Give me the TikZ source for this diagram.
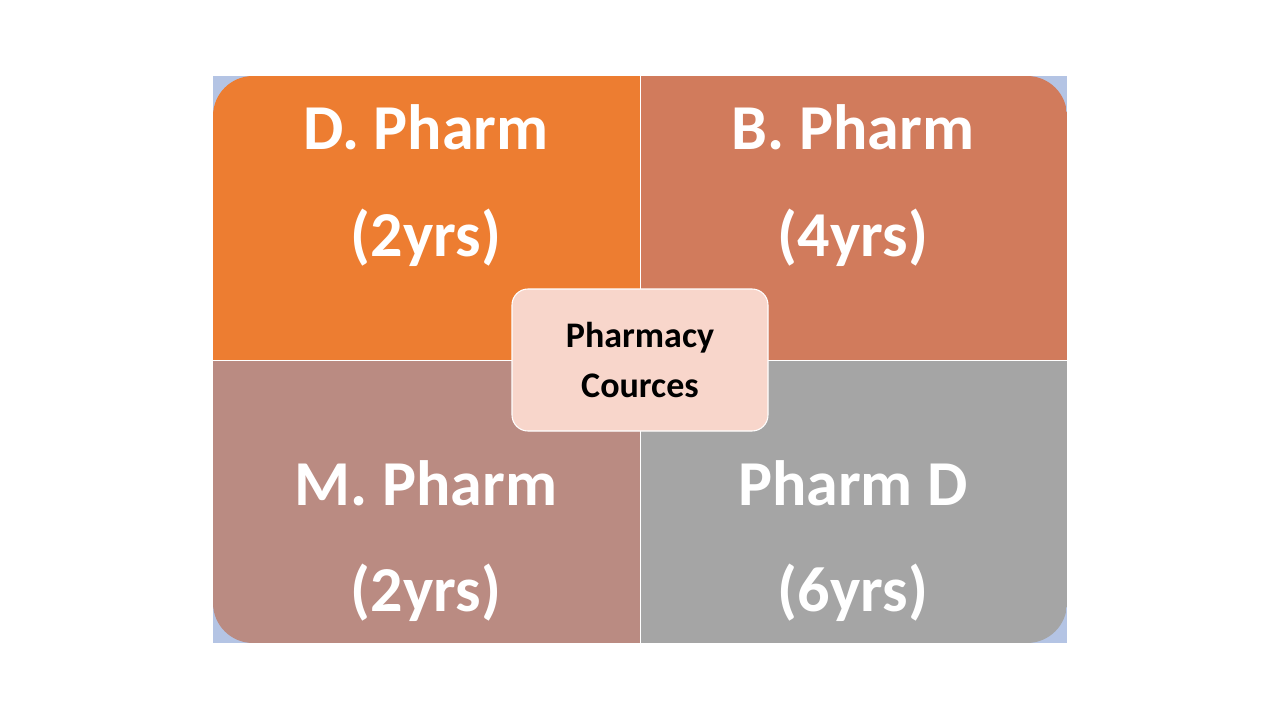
\documentclass[tikz,border=0pt]{standalone}
\usepackage{fontspec}
\setmainfont{Carlito}
\definecolor{bgblue}{RGB}{180,196,228}
\definecolor{qa}{RGB}{237,125,49}
\definecolor{qb}{RGB}{209,123,92}
\definecolor{qc}{RGB}{186,139,130}
\definecolor{qd}{RGB}{165,165,165}
\definecolor{cen}{RGB}{248,214,203}
\tikzset{big/.style={text=white,font=\bfseries\fontsize{48}{56}\selectfont},
 small/.style={text=black,font=\bfseries\fontsize{27}{38}\selectfont,align=center}}
\begin{document}
\begin{tikzpicture}[x=0.75pt,y=-0.75pt]
\useasboundingbox (0,0) rectangle (1280,720);
\fill[white] (0,0) rectangle (1280,720);
\fill[bgblue] (213,76) rectangle (1067,643);
\begin{scope}
\clip[rounded corners=30pt] (213,76) rectangle (1067,643);
\fill[qa] (213,76) rectangle (640,360);
\fill[qb] (640,76) rectangle (1067,360);
\fill[qc] (213,360) rectangle (640,643);
\fill[qd] (640,360) rectangle (1067,643);
\draw[white,line width=0.6pt] (640,76) -- (640,643) (213,360) -- (1067,360);
\end{scope}
\node[big] (a1) at (426,127) {D. Pharm};
\node[big] (a2) at (426,238) {(2yrs)};
\node[big] (b1) at (853,127) {B. Pharm};
\node[big] (b2) at (853,238) {(4yrs)};
\node[big] (c1) at (426,483) {M. Pharm};
\node[big] (c2) at (426,593) {(2yrs)};
\node[big] (d1) at (853,483) {Pharm D};
\node[big] (d2) at (853,593) {(6yrs)};
\filldraw[fill=cen,draw=white,line width=0.8pt,rounded corners=12pt] (512,289) rectangle (768,431);
\node[small] (c) at (640,360) {Pharmacy\\Cources};
\end{tikzpicture}
\end{document}
